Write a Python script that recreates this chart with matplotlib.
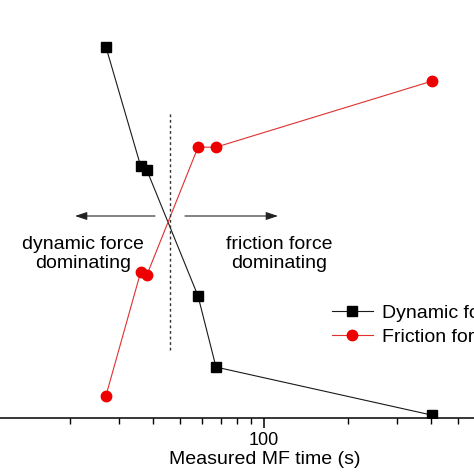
import numpy as np
import matplotlib
matplotlib.use("Agg")
import matplotlib.pyplot as plt
from matplotlib.ticker import LogLocator, NullFormatter, FixedLocator, FixedFormatter

plt.rcParams['font.family'] = ['Liberation Sans', 'DejaVu Sans']

# measured MF time (s) and normalised force contributions
mf_time = [27.0, 36.0, 37.9, 57.9, 67.2, 402.0]
dynamic_force = [0.888, 0.603, 0.593, 0.292, 0.122, 0.007]
friction_force = [0.053, 0.349, 0.342, 0.648, 0.648, 0.806]
series_labels = ["Dynamic force", "Friction force"]
boundary_time = 45.9

fig = plt.figure(figsize=(4.74, 4.74), dpi=100)
ax = fig.add_axes([0.0, 0.118, 1.0, 0.882])

ax.plot(mf_time, dynamic_force, color='#1a1a1a', lw=0.8, marker='s', ms=7,
        mfc='black', mec='black', label=series_labels[0])
ax.plot(mf_time, friction_force, color='#e03030', lw=0.8, marker='o', ms=7.5,
        mfc='#ee0000', mec='#ee0000', label=series_labels[1])

ax.vlines(boundary_time, 0.163, 0.732, colors='#333333', lw=1.0, linestyles=(0, (2, 2)))

ax.set_xscale('log')
ax.set_xlim(11.23, 569.4)
ax.set_ylim(0, 1)

ax.xaxis.set_major_locator(FixedLocator([100]))
ax.xaxis.set_major_formatter(FixedFormatter(["100"]))
ax.xaxis.set_minor_locator(LogLocator(base=10, subs=np.arange(2, 10)))
ax.xaxis.set_minor_formatter(NullFormatter())
ax.tick_params(axis='x', which='major', direction='out', length=7, width=1.1, labelsize=13, pad=3)
ax.tick_params(axis='x', which='minor', direction='out', length=4, width=1.0)
ax.set_xlabel("Measured MF time (s)", fontsize=14)
ax.xaxis.set_label_coords(265 / 474, -0.078)

ax.set_yticks([])
for s in ['left', 'right', 'top']:
    ax.spines[s].set_visible(False)
ax.spines['bottom'].set_linewidth(1.1)

# region annotations
def figxy(px, py):
    return (px / 474, 1 - py / 474)

arrow = dict(arrowstyle='-|>,head_length=0.6,head_width=0.2', color='#222222', lw=0.8,
             mutation_scale=12, shrinkA=0, shrinkB=0)
ax.annotate("", xy=figxy(75, 216), xytext=figxy(155, 216), xycoords='figure fraction',
            textcoords='figure fraction', arrowprops=arrow)
ax.annotate("", xy=figxy(278, 216), xytext=figxy(185, 216), xycoords='figure fraction',
            textcoords='figure fraction', arrowprops=arrow)

fig.text(*figxy(83, 254), "dynamic force\ndominating", ha='center', va='center',
         fontsize=14, linespacing=1.2)
fig.text(*figxy(279, 254), "friction force\ndominating", ha='center', va='center',
         fontsize=14, linespacing=1.2)

ax.legend(loc='center left', bbox_to_anchor=figxy(332, 325), bbox_transform=fig.transFigure,
          frameon=False, fontsize=14, handlelength=2.1, handletextpad=0.45,
          labelspacing=0.3, borderpad=0, borderaxespad=0)

fig.savefig("out.png", dpi=100)
